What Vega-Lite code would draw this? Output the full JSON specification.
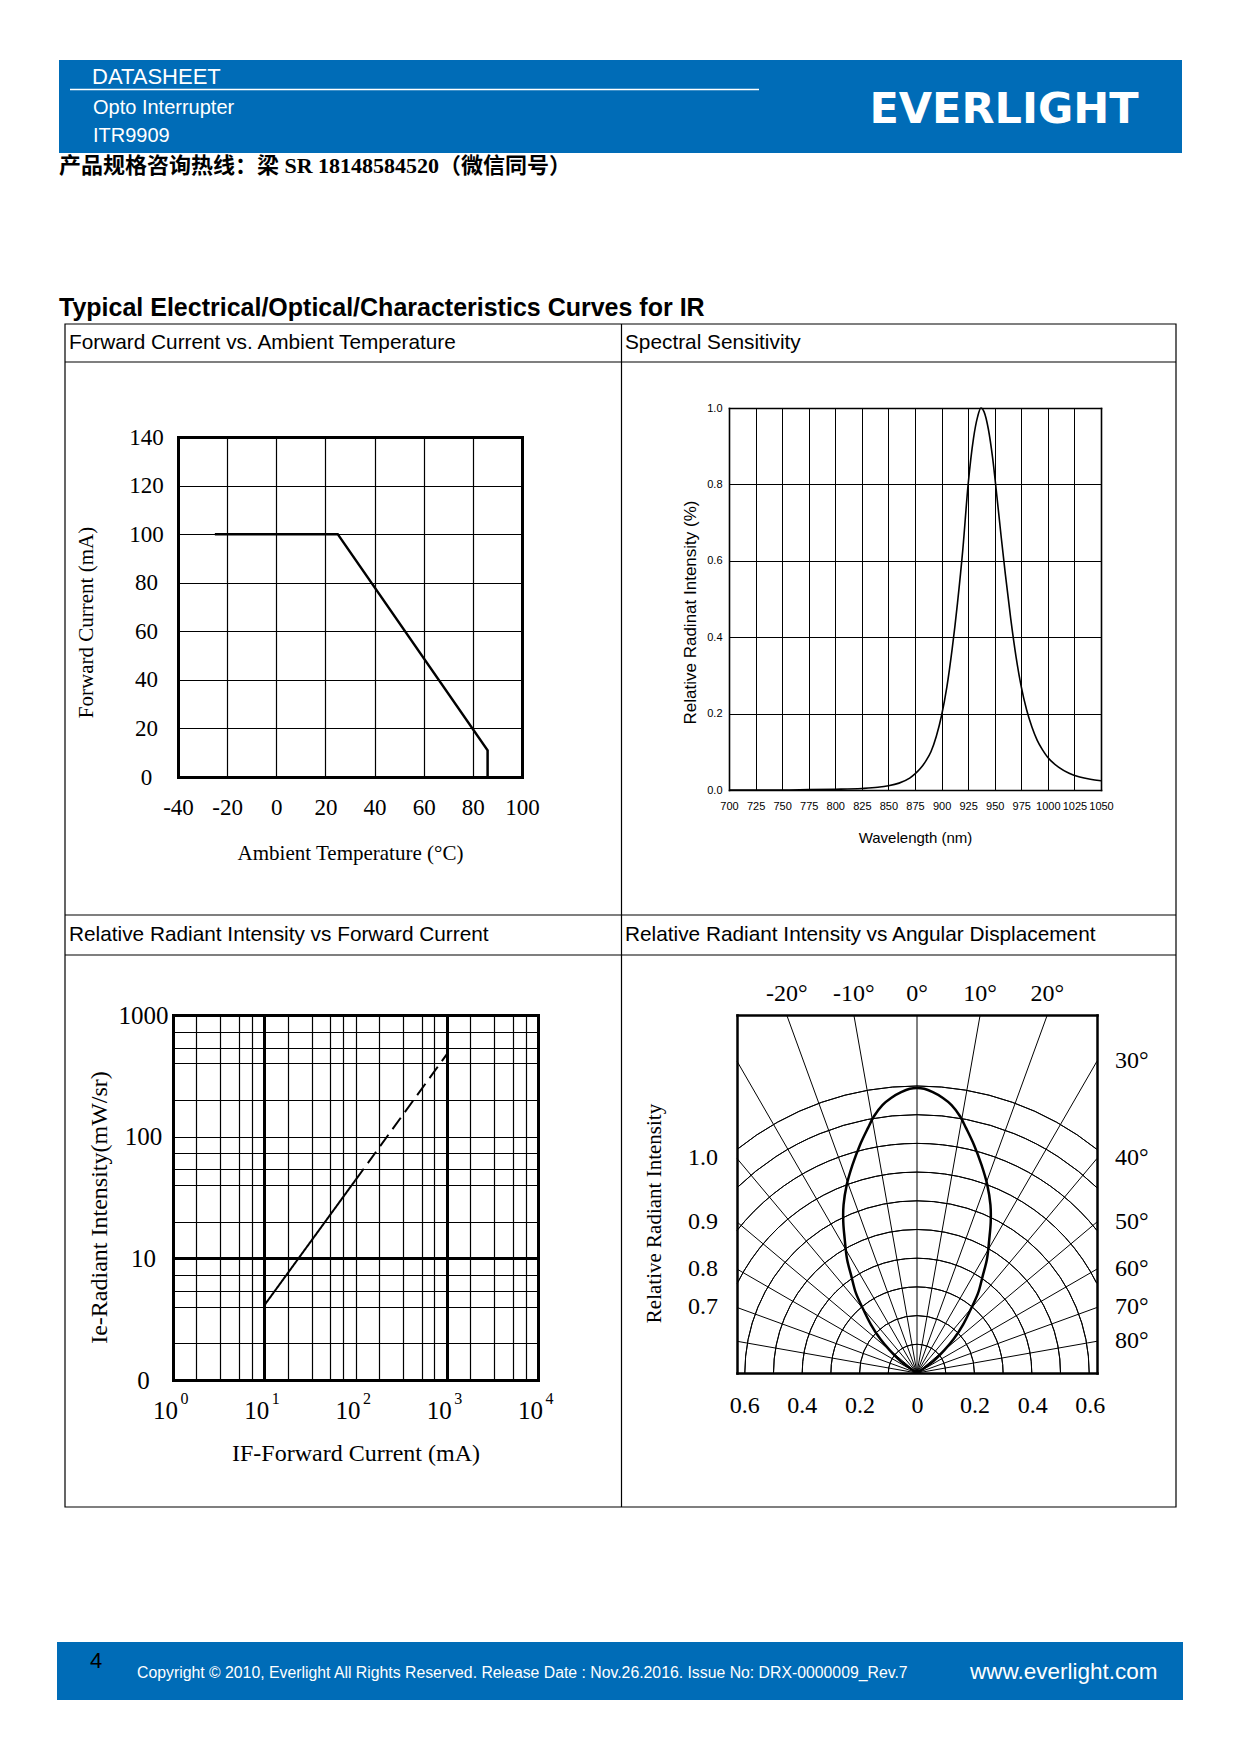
{
  "$schema": "https://vega.github.io/schema/vega-lite/v6.json",
  "width": 1240,
  "height": 1754,
  "autosize": "none",
  "padding": 0,
  "background": "white",
  "config": {
    "view": {"stroke": null},
    "axis": {
      "domain": false, "ticks": false, "tickSize": 0,
      "labelColor": "#000000", "titleColor": "#000000",
      "gridColor": "#000000", "gridOpacity": 1, "gridWidth": 1.2, "gridCap": "square",
      "titleFontWeight": "normal", "labelFont": "Liberation Serif", "titleFont": "Liberation Serif",
      "labelOverlap": false, "labelFlush": false, "labelBound": false, "minExtent": 0
    }
  },
  "datasets": {
    "fc": [
      {"t": -25, "i": 100}, {"t": 25, "i": 100}, {"t": 86, "i": 11}, {"t": 86, "i": 0}
    ],
    "spec": [
      {"wl": 700, "rel": 0}, {"wl": 725, "rel": 0}, {"wl": 750, "rel": 0}, {"wl": 775, "rel": 0.001},
      {"wl": 800, "rel": 0.002}, {"wl": 825, "rel": 0.004}, {"wl": 840, "rel": 0.007}, {"wl": 850, "rel": 0.011},
      {"wl": 860, "rel": 0.018}, {"wl": 870, "rel": 0.031}, {"wl": 875, "rel": 0.042}, {"wl": 880, "rel": 0.056},
      {"wl": 885, "rel": 0.075}, {"wl": 890, "rel": 0.1}, {"wl": 895, "rel": 0.14}, {"wl": 900, "rel": 0.195},
      {"wl": 905, "rel": 0.27}, {"wl": 910, "rel": 0.37}, {"wl": 915, "rel": 0.49}, {"wl": 920, "rel": 0.63},
      {"wl": 925, "rel": 0.8}, {"wl": 930, "rel": 0.92}, {"wl": 934, "rel": 0.978}, {"wl": 937, "rel": 1.0},
      {"wl": 940, "rel": 0.99}, {"wl": 944, "rel": 0.945}, {"wl": 948, "rel": 0.87}, {"wl": 952, "rel": 0.77},
      {"wl": 956, "rel": 0.665}, {"wl": 960, "rel": 0.565}, {"wl": 965, "rel": 0.45}, {"wl": 970, "rel": 0.35},
      {"wl": 975, "rel": 0.27}, {"wl": 980, "rel": 0.21}, {"wl": 985, "rel": 0.165}, {"wl": 990, "rel": 0.13},
      {"wl": 995, "rel": 0.105}, {"wl": 1000, "rel": 0.085}, {"wl": 1010, "rel": 0.06}, {"wl": 1020, "rel": 0.044},
      {"wl": 1030, "rel": 0.034}, {"wl": 1040, "rel": 0.028}, {"wl": 1050, "rel": 0.024}
    ],
    "ie": [
      {"cur": 10, "rad": 4.1, "seg": "measured"},
      {"cur": 100, "rad": 44, "seg": "measured"},
      {"cur": 100, "rad": 44, "seg": "extrapolated"},
      {"cur": 1000, "rad": 475, "seg": "extrapolated"}
    ],
    "rings": [
      {"cx": 0, "cy": 0, "r": 0.1, "t0": -1.5708, "t1": 1.5708}, {"cx": 0, "cy": 0, "r": 0.2, "t0": -1.5708, "t1": 1.5708},
      {"cx": 0, "cy": 0, "r": 0.3, "t0": -1.5708, "t1": 1.5708}, {"cx": 0, "cy": 0, "r": 0.4, "t0": -1.5708, "t1": 1.5708},
      {"cx": 0, "cy": 0, "r": 0.5, "t0": -1.5708, "t1": 1.5708}, {"cx": 0, "cy": 0, "r": 0.6, "t0": -1.5708, "t1": 1.5708},
      {"cx": 0, "cy": 0, "r": 0.7, "t0": -1.108, "t1": 1.108}, {"cx": 0, "cy": 0, "r": 0.8, "t0": -0.901, "t1": 0.901},
      {"cx": 0, "cy": 0, "r": 0.9, "t0": -0.771, "t1": 0.771}, {"cx": 0, "cy": 0, "r": 1.0, "t0": -0.677, "t1": 0.677}
    ],
    "spokes": [
      {"ang": -80, "ox": 0, "oy": 0, "px": -0.625, "py": 0.1113, "pos": "left", "lab": ""},
      {"ang": -70, "ox": 0, "oy": 0, "px": -0.625, "py": 0.2299, "pos": "left", "lab": "0.7"},
      {"ang": -60, "ox": 0, "oy": 0, "px": -0.625, "py": 0.3646, "pos": "left", "lab": "0.8"},
      {"ang": -50, "ox": 0, "oy": 0, "px": -0.625, "py": 0.5299, "pos": "left", "lab": "0.9"},
      {"ang": -40, "ox": 0, "oy": 0, "px": -0.625, "py": 0.7527, "pos": "left", "lab": "1.0"},
      {"ang": -30, "ox": 0, "oy": 0, "px": -0.625, "py": 1.094, "pos": "left", "lab": ""},
      {"ang": -20, "ox": 0, "oy": 0, "px": -0.4524, "py": 1.256, "pos": "top", "lab": "-20°"},
      {"ang": -10, "ox": 0, "oy": 0, "px": -0.2192, "py": 1.256, "pos": "top", "lab": "-10°"},
      {"ang": 0, "ox": 0, "oy": 0, "px": 0, "py": 1.256, "pos": "top", "lab": "0°"},
      {"ang": 10, "ox": 0, "oy": 0, "px": 0.2192, "py": 1.256, "pos": "top", "lab": "10°"},
      {"ang": 20, "ox": 0, "oy": 0, "px": 0.4524, "py": 1.256, "pos": "top", "lab": "20°"},
      {"ang": 30, "ox": 0, "oy": 0, "px": 0.625, "py": 1.094, "pos": "right", "lab": "30°"},
      {"ang": 40, "ox": 0, "oy": 0, "px": 0.625, "py": 0.7527, "pos": "right", "lab": "40°"},
      {"ang": 50, "ox": 0, "oy": 0, "px": 0.625, "py": 0.5299, "pos": "right", "lab": "50°"},
      {"ang": 60, "ox": 0, "oy": 0, "px": 0.625, "py": 0.3646, "pos": "right", "lab": "60°"},
      {"ang": 70, "ox": 0, "oy": 0, "px": 0.625, "py": 0.2299, "pos": "right", "lab": "70°"},
      {"ang": 80, "ox": 0, "oy": 0, "px": 0.625, "py": 0.1113, "pos": "right", "lab": "80°"}
    ],
    "lobe": [
      {"i": 0, "lx": 0, "ly": 0}, {"i": 1, "lx": -0.055, "ly": 0.04}, {"i": 2, "lx": -0.095, "ly": 0.08},
      {"i": 3, "lx": -0.128, "ly": 0.12}, {"i": 4, "lx": -0.16, "ly": 0.17}, {"i": 5, "lx": -0.185, "ly": 0.22},
      {"i": 6, "lx": -0.212, "ly": 0.28}, {"i": 7, "lx": -0.228, "ly": 0.34}, {"i": 8, "lx": -0.243, "ly": 0.4},
      {"i": 9, "lx": -0.251, "ly": 0.47}, {"i": 10, "lx": -0.256, "ly": 0.53}, {"i": 11, "lx": -0.255, "ly": 0.59},
      {"i": 12, "lx": -0.244, "ly": 0.66}, {"i": 13, "lx": -0.224, "ly": 0.73}, {"i": 14, "lx": -0.198, "ly": 0.8},
      {"i": 15, "lx": -0.17, "ly": 0.86}, {"i": 16, "lx": -0.15, "ly": 0.9}, {"i": 17, "lx": -0.12, "ly": 0.94},
      {"i": 18, "lx": -0.09, "ly": 0.965}, {"i": 19, "lx": -0.055, "ly": 0.985}, {"i": 20, "lx": -0.025, "ly": 0.997},
      {"i": 21, "lx": 0, "ly": 1.0},
      {"i": 22, "lx": 0.025, "ly": 0.997}, {"i": 23, "lx": 0.055, "ly": 0.985}, {"i": 24, "lx": 0.09, "ly": 0.965},
      {"i": 25, "lx": 0.12, "ly": 0.94}, {"i": 26, "lx": 0.15, "ly": 0.9}, {"i": 27, "lx": 0.17, "ly": 0.86},
      {"i": 28, "lx": 0.198, "ly": 0.8}, {"i": 29, "lx": 0.224, "ly": 0.73}, {"i": 30, "lx": 0.244, "ly": 0.66},
      {"i": 31, "lx": 0.255, "ly": 0.59}, {"i": 32, "lx": 0.256, "ly": 0.53}, {"i": 33, "lx": 0.251, "ly": 0.47},
      {"i": 34, "lx": 0.243, "ly": 0.4}, {"i": 35, "lx": 0.228, "ly": 0.34}, {"i": 36, "lx": 0.212, "ly": 0.28},
      {"i": 37, "lx": 0.185, "ly": 0.22}, {"i": 38, "lx": 0.16, "ly": 0.17}, {"i": 39, "lx": 0.128, "ly": 0.12},
      {"i": 40, "lx": 0.095, "ly": 0.08}, {"i": 41, "lx": 0.055, "ly": 0.04}, {"i": 42, "lx": 0, "ly": 0}
    ]
  },
  "layer": [
    {"data": {"values": [{}]}, "mark": {"type": "rect", "color": "#006cb7"},
     "encoding": {"x": {"value": 59}, "x2": {"value": 1182}, "y": {"value": 60}, "y2": {"value": 153}}},
    {"data": {"values": [{}]}, "mark": {"type": "rule", "color": "white", "strokeWidth": 1.5},
     "encoding": {"x": {"value": 70}, "x2": {"value": 759}, "y": {"value": 89.5}, "y2": {"value": 89.5}}},
    {"data": {"values": [{}]}, "mark": {"type": "text", "align": "left", "baseline": "middle", "font": "Liberation Sans", "fontSize": 22, "color": "white", "text": "DATASHEET"},
     "encoding": {"x": {"value": 92}, "y": {"value": 77}}},
    {"data": {"values": [{}]}, "mark": {"type": "text", "align": "left", "baseline": "middle", "font": "Liberation Sans", "fontSize": 20, "color": "white", "text": "Opto Interrupter"},
     "encoding": {"x": {"value": 93}, "y": {"value": 108}}},
    {"data": {"values": [{}]}, "mark": {"type": "text", "align": "left", "baseline": "middle", "font": "Liberation Sans", "fontSize": 20, "color": "white", "text": "ITR9909"},
     "encoding": {"x": {"value": 93}, "y": {"value": 136}}},
    {"data": {"values": [{}]}, "mark": {"type": "text", "align": "center", "baseline": "alphabetic", "font": "DejaVu Sans", "fontWeight": "bold", "fontSize": 43, "color": "white", "text": "EVERLIGHT"},
     "encoding": {"x": {"value": 1004}, "y": {"value": 123}}},
    {"data": {"values": [{}]}, "mark": {"type": "text", "align": "left", "baseline": "middle", "font": "Liberation Serif, Noto Sans CJK SC", "fontWeight": "bold", "fontSize": 22, "color": "black", "text": "产品规格咨询热线：梁 SR 18148584520（微信同号）"},
     "encoding": {"x": {"value": 59}, "y": {"value": 166}}},
    {"data": {"values": [{}]}, "mark": {"type": "text", "align": "left", "baseline": "middle", "font": "Liberation Sans", "fontWeight": "bold", "fontSize": 25, "color": "black", "text": "Typical Electrical/Optical/Characteristics Curves for IR"},
     "encoding": {"x": {"value": 59}, "y": {"value": 308}}},
    {"data": {"values": [{}]}, "mark": {"type": "rect", "filled": false, "color": "black", "strokeWidth": 1.2},
     "encoding": {"x": {"value": 65}, "x2": {"value": 1176}, "y": {"value": 324}, "y2": {"value": 1507}}},
    {"data": {"values": [{}]}, "mark": {"type": "rule", "color": "black", "strokeWidth": 1.2},
     "encoding": {"x": {"value": 65}, "x2": {"value": 1176}, "y": {"value": 362}, "y2": {"value": 362}}},
    {"data": {"values": [{}]}, "mark": {"type": "rule", "color": "black", "strokeWidth": 1.2},
     "encoding": {"x": {"value": 65}, "x2": {"value": 1176}, "y": {"value": 915}, "y2": {"value": 915}}},
    {"data": {"values": [{}]}, "mark": {"type": "rule", "color": "black", "strokeWidth": 1.2},
     "encoding": {"x": {"value": 65}, "x2": {"value": 1176}, "y": {"value": 955}, "y2": {"value": 955}}},
    {"data": {"values": [{}]}, "mark": {"type": "rule", "color": "black", "strokeWidth": 1.2},
     "encoding": {"x": {"value": 621.5}, "x2": {"value": 621.5}, "y": {"value": 324}, "y2": {"value": 1507}}},
    {"data": {"values": [{}]}, "mark": {"type": "text", "align": "left", "baseline": "middle", "font": "Liberation Sans", "fontSize": 20.8, "color": "black", "text": "Forward Current vs. Ambient Temperature"},
     "encoding": {"x": {"value": 69}, "y": {"value": 343}}},
    {"data": {"values": [{}]}, "mark": {"type": "text", "align": "left", "baseline": "middle", "font": "Liberation Sans", "fontSize": 20.8, "color": "black", "text": "Spectral Sensitivity"},
     "encoding": {"x": {"value": 625}, "y": {"value": 343}}},
    {"data": {"values": [{}]}, "mark": {"type": "text", "align": "left", "baseline": "middle", "font": "Liberation Sans", "fontSize": 20.8, "color": "black", "text": "Relative Radiant Intensity vs Forward Current"},
     "encoding": {"x": {"value": 69}, "y": {"value": 935}}},
    {"data": {"values": [{}]}, "mark": {"type": "text", "align": "left", "baseline": "middle", "font": "Liberation Sans", "fontSize": 20.8, "color": "black", "text": "Relative Radiant Intensity vs Angular Displacement"},
     "encoding": {"x": {"value": 625}, "y": {"value": 935}}},
    {"data": {"values": [{}]}, "mark": {"type": "rect", "color": "#006cb7"},
     "encoding": {"x": {"value": 57}, "x2": {"value": 1183}, "y": {"value": 1642}, "y2": {"value": 1700}}},
    {"data": {"values": [{}]}, "mark": {"type": "text", "align": "center", "baseline": "middle", "font": "Liberation Sans", "fontSize": 22, "color": "black", "text": "4"},
     "encoding": {"x": {"value": 96}, "y": {"value": 1661}}},
    {"data": {"values": [{}]}, "mark": {"type": "text", "align": "left", "baseline": "middle", "font": "Liberation Sans", "fontSize": 15.8, "color": "white", "text": "Copyright © 2010, Everlight All Rights Reserved. Release Date : Nov.26.2016. Issue No: DRX-0000009_Rev.7"},
     "encoding": {"x": {"value": 137}, "y": {"value": 1673}}},
    {"data": {"values": [{}]}, "mark": {"type": "text", "align": "left", "baseline": "middle", "font": "Liberation Sans", "fontSize": 22.5, "color": "white", "text": "www.everlight.com"},
     "encoding": {"x": {"value": 970}, "y": {"value": 1672}}},

    {
      "data": {"name": "fc"},
      "mark": {"type": "line", "color": "black", "strokeWidth": 2.5},
      "encoding": {
        "x": {"field": "t", "type": "quantitative",
              "scale": {"domain": [-40, 100], "range": [178, 522], "nice": false, "zero": false},
              "axis": {"orient": "top", "offset": -777, "grid": true, "values": [-40, -20, 0, 20, 40, 60, 80, 100],
                       "gridWidth": {"condition": {"test": "datum.value == -40 || datum.value == 100", "value": 3}, "value": 1.2},
                       "labelExpr": "datum.value < 0 ? '-' + abs(datum.value) : '' + datum.value",
                       "labelFontSize": 23, "labelPadding": -19, "labelBaseline": "top",
                       "title": "Ambient Temperature (°C)", "titleFontSize": 21, "titleBaseline": "middle", "titleY": 76}},
        "y": {"field": "i", "type": "quantitative",
              "scale": {"domain": [0, 140], "range": [777, 437], "nice": false, "zero": false},
              "axis": {"orient": "left", "offset": -178, "grid": true, "values": [0, 20, 40, 60, 80, 100, 120, 140],
                       "gridWidth": {"condition": {"test": "datum.value == 0 || datum.value == 140", "value": 3}, "value": 1.2},
                       "labelAlign": "center", "labelPadding": 32, "labelFontSize": 23,
                       "title": "Forward Current (mA)", "titleFontSize": 21, "titlePadding": 32, "titleY": 622}}
      }
    },

    {
      "data": {"name": "spec"},
      "mark": {"type": "line", "color": "black", "strokeWidth": 1.6, "interpolate": "monotone"},
      "encoding": {
        "x": {"field": "wl", "type": "quantitative",
              "scale": {"domain": [700, 1050], "range": [729, 1101], "nice": false, "zero": false},
              "axis": {"orient": "top", "offset": -790, "grid": true, "format": "d",
                       "values": [700, 725, 750, 775, 800, 825, 850, 875, 900, 925, 950, 975, 1000, 1025, 1050],
                       "gridWidth": {"condition": {"test": "datum.value == 700 || datum.value == 1050", "value": 1.6}, "value": 1},
                       "labelFont": "Liberation Sans", "labelFontSize": 11, "labelPadding": -10, "labelBaseline": "top",
                       "title": "Wavelength (nm)", "titleFont": "Liberation Sans", "titleFontSize": 15,
                       "titleBaseline": "middle", "titleY": 47}},
        "y": {"field": "rel", "type": "quantitative",
              "scale": {"domain": [0, 1], "range": [790, 408], "nice": false, "zero": false},
              "axis": {"orient": "left", "offset": -729, "grid": true, "values": [0, 0.2, 0.4, 0.6, 0.8, 1.0],
                       "gridWidth": {"condition": {"test": "datum.value == 0 || datum.value == 1", "value": 1.6}, "value": 1},
                       "format": ".1f", "labelFont": "Liberation Sans", "labelFontSize": 11, "labelPadding": 7,
                       "title": "Relative Radinat Intensity (%)", "titleFont": "Liberation Sans", "titleFontSize": 17,
                       "titlePadding": 7, "titleY": 612}}
      }
    },

    {
      "data": {"name": "ie"},
      "mark": {"type": "line", "color": "black", "strokeWidth": 2},
      "encoding": {
        "x": {"field": "cur", "type": "quantitative",
              "scale": {"type": "log", "domain": [1, 10000], "range": [173, 538], "nice": false},
              "axis": {"orient": "top", "offset": -1380, "grid": true,
                       "values": [1, 1.8, 3.3, 5.3, 7.3, 10, 18, 33, 53, 73, 100, 180, 330, 530, 730, 1000, 1800, 3300, 5300, 7300, 10000],
                       "gridWidth": {"condition": {"test": "datum.value == 1 || datum.value == 10 || datum.value == 1000 || datum.value == 10000", "value": 3}, "value": 1.2},
                       "labelExpr": "indexof([1, 10, 100, 1000, 10000], datum.value) >= 0 ? '10' : ''",
                       "labelFontSize": 25, "labelPadding": -18, "labelBaseline": "top", "labelOffset": -8,
                       "title": "IF-Forward Current (mA)", "titleFontSize": 24, "titleBaseline": "middle", "titleY": 73}},
        "y": {"field": "rad", "type": "quantitative",
              "scale": {"type": "log", "domain": [1, 1000], "range": [1380, 1015], "nice": false},
              "axis": {"orient": "left", "offset": -173, "grid": true,
                       "values": [1, 2, 4, 5.4, 7.3, 10, 20, 40, 54, 73, 100, 200, 400, 540, 730, 1000],
                       "gridWidth": {"condition": {"test": "datum.value == 1 || datum.value == 10 || datum.value == 1000", "value": 3}, "value": 1.2},
                       "labelExpr": "datum.value == 1 ? '0' : datum.value == 10 ? '10' : datum.value == 100 ? '100' : datum.value == 1000 ? '1000' : ''",
                       "labelAlign": "center", "labelPadding": 30, "labelFontSize": 25,
                       "title": "Ie-Radiant Intensity(mW/sr)", "titleFontSize": 24, "titlePadding": 7, "titleY": 1207}},
        "strokeDash": {"field": "seg", "type": "nominal",
                       "scale": {"domain": ["measured", "extrapolated"], "range": [[1, 0], [14, 7]]}, "legend": null}
      }
    },
    {
      "data": {"name": "ie"},
      "mark": {"type": "line", "opacity": 0},
      "encoding": {
        "x": {"field": "cur", "type": "quantitative",
              "scale": {"type": "log", "domain": [1, 10000], "range": [173, 538], "nice": false},
              "axis": {"orient": "top", "offset": -1380, "grid": false, "values": [1, 10, 100, 1000, 10000],
                       "labelExpr": "datum.value == 1 ? '0' : datum.value == 10 ? '1' : datum.value == 100 ? '2' : datum.value == 1000 ? '3' : '4'",
                       "labelFontSize": 16, "labelPadding": -10, "labelBaseline": "top", "labelOffset": 11, "title": null}},
        "y": {"field": "rad", "type": "quantitative",
              "scale": {"type": "log", "domain": [1, 1000], "range": [1380, 1015], "nice": false}, "axis": null}
      }
    },

    {
      "data": {"name": "rings"},
      "mark": {"type": "arc", "filled": false, "color": "black", "strokeWidth": 1},
      "encoding": {
        "x": {"field": "cx", "type": "quantitative", "scale": {"domain": [-0.625, 0.625], "range": [737, 1097], "nice": false, "zero": false}, "axis": null},
        "y": {"field": "cy", "type": "quantitative", "scale": {"domain": [0, 1.256], "range": [1373, 1015], "nice": false, "zero": false}, "axis": null},
        "theta": {"field": "t0", "type": "quantitative", "scale": {"type": "linear", "domain": [-3.1416, 3.1416], "range": [-3.1416, 3.1416], "zero": false, "nice": false}},
        "theta2": {"field": "t1"},
        "radius": {"field": "r", "type": "quantitative", "scale": {"type": "linear", "domain": [0, 1], "range": [0, 287], "zero": true, "nice": false}},
        "radius2": {"field": "r"}
      }
    },
    {
      "data": {"name": "spokes"},
      "mark": {"type": "rule", "color": "black", "strokeWidth": 1},
      "encoding": {
        "x": {"field": "ox", "type": "quantitative",
              "scale": {"domain": [-0.625, 0.625], "range": [737, 1097], "nice": false, "zero": false},
              "axis": {"orient": "top", "offset": -1373, "grid": true,
                       "values": [-0.625, -0.6, -0.4, -0.2, 0, 0.2, 0.4, 0.6, 0.625],
                       "gridWidth": {"condition": {"test": "abs(datum.value) == 0.625", "value": 2.5}, "value": 0},
                       "labelExpr": "abs(datum.value) == 0.625 ? '' : datum.value == 0 ? '0' : format(abs(datum.value), '.1f')",
                       "labelFontSize": 24, "labelPadding": -20, "labelBaseline": "top", "title": null}},
        "y": {"field": "oy", "type": "quantitative",
              "scale": {"domain": [0, 1.256], "range": [1373, 1015], "nice": false, "zero": false},
              "axis": {"orient": "left", "offset": -737, "grid": true, "gridWidth": 2.5, "values": [0, 1.256],
                       "labelExpr": "''",
                       "title": "Relative Radiant Intensity", "titleFontSize": 21, "titlePadding": 71, "titleY": 1213}},
        "x2": {"field": "px"},
        "y2": {"field": "py"}
      }
    },
    {
      "data": {"name": "lobe"},
      "mark": {"type": "line", "color": "black", "strokeWidth": 2.5, "interpolate": "catmull-rom"},
      "encoding": {
        "x": {"field": "lx", "type": "quantitative", "scale": {"domain": [-0.625, 0.625], "range": [737, 1097], "nice": false, "zero": false}, "axis": null},
        "y": {"field": "ly", "type": "quantitative", "scale": {"domain": [0, 1.256], "range": [1373, 1015], "nice": false, "zero": false}, "axis": null},
        "order": {"field": "i", "type": "quantitative"}
      }
    },
    {
      "data": {"name": "spokes"},
      "transform": [{"filter": "datum.pos == 'top'"}],
      "mark": {"type": "text", "align": "center", "baseline": "middle", "dy": -21, "font": "Liberation Serif", "fontSize": 24, "color": "black"},
      "encoding": {
        "x": {"field": "px", "type": "quantitative", "scale": {"domain": [-0.625, 0.625], "range": [737, 1097], "nice": false, "zero": false}, "axis": null},
        "y": {"field": "py", "type": "quantitative", "scale": {"domain": [0, 1.256], "range": [1373, 1015], "nice": false, "zero": false}, "axis": null},
        "text": {"field": "lab", "type": "nominal"}
      }
    },
    {
      "data": {"name": "spokes"},
      "transform": [{"filter": "datum.pos == 'right'"}],
      "mark": {"type": "text", "align": "left", "baseline": "middle", "dx": 18, "font": "Liberation Serif", "fontSize": 24, "color": "black"},
      "encoding": {
        "x": {"field": "px", "type": "quantitative", "scale": {"domain": [-0.625, 0.625], "range": [737, 1097], "nice": false, "zero": false}, "axis": null},
        "y": {"field": "py", "type": "quantitative", "scale": {"domain": [0, 1.256], "range": [1373, 1015], "nice": false, "zero": false}, "axis": null},
        "text": {"field": "lab", "type": "nominal"}
      }
    },
    {
      "data": {"name": "spokes"},
      "transform": [{"filter": "datum.pos == 'left' && datum.lab != ''"}],
      "mark": {"type": "text", "align": "right", "baseline": "middle", "dx": -19, "font": "Liberation Serif", "fontSize": 24, "color": "black"},
      "encoding": {
        "x": {"field": "px", "type": "quantitative", "scale": {"domain": [-0.625, 0.625], "range": [737, 1097], "nice": false, "zero": false}, "axis": null},
        "y": {"field": "py", "type": "quantitative", "scale": {"domain": [0, 1.256], "range": [1373, 1015], "nice": false, "zero": false}, "axis": null},
        "text": {"field": "lab", "type": "nominal"}
      }
    }
  ],
  "resolve": {
    "scale": {"x": "independent", "y": "independent"},
    "axis": {"x": "independent", "y": "independent"}
  }
}
